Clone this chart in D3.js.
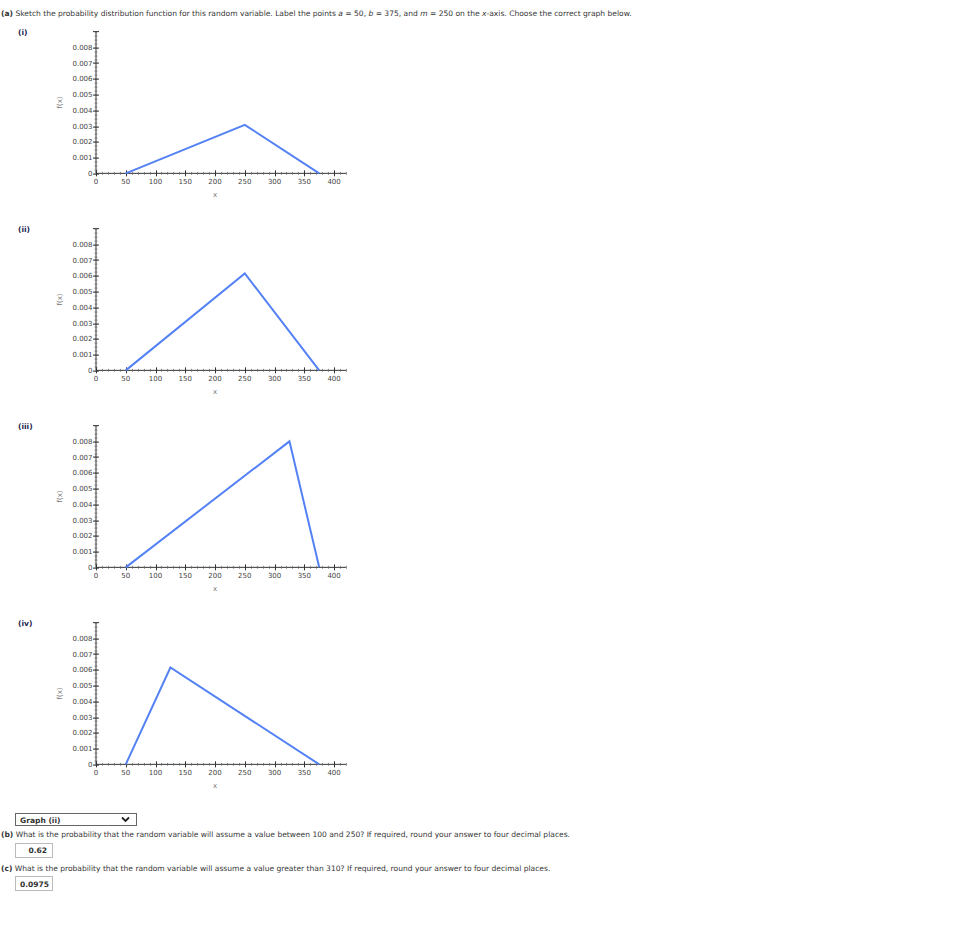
<!DOCTYPE html>
<html>
<head>
<meta charset="utf-8">
<script src="https://cdn.jsdelivr.net/npm/d3@7/dist/d3.min.js"></script>
<style>
  html, body { margin: 0; padding: 0; background: #fff; }
  svg { display: block; }
  text { font-family: "DejaVu Sans", Verdana, sans-serif; }
</style>
</head>
<body>
<svg id="page" width="963" height="934"></svg>
<script>
// Triangular distribution: lower limit a, upper limit b, candidate modes
const lowerA = 50;
const upperB = 375;
const graphLabels = ["(i)", "(ii)", "(iii)", "(iv)"];
const peakX = [250, 250, 325, 125];
const peakY = [0.00308, 0.00615, 0.008, 0.00615];

// Axis ticks
const xTicks = [0, 50, 100, 150, 200, 250, 300, 350, 400];
const yTicks = [0, 0.001, 0.002, 0.003, 0.004, 0.005, 0.006, 0.007, 0.008];
const xTickText = ["0", "50", "100", "150", "200", "250", "300", "350", "400"];
const yTickText = ["0", "0.001", "0.002", "0.003", "0.004", "0.005", "0.006", "0.007", "0.008"];

// Question texts and answers
const titleBold = "(a)";
const titleText = " Sketch the probability distribution function for this random variable. Label the points ";
const answerChoice = "Graph (ii)";
const partB = "What is the probability that the random variable will assume a value between 100 and 250? If required, round your answer to four decimal places.";
const answerB = "0.62";
const partC = "What is the probability that the random variable will assume a value greater than 310? If required, round your answer to four decimal places.";
const answerC = "0.0975";

const svg = d3.select("#page");
const textColor = "#333";
const fs = 7.55;

// Header line for part (a)
const title = svg.append("text").attr("x", 1).attr("y", 16)
  .attr("font-size", fs).attr("fill", textColor);
title.append("tspan").attr("font-weight", "bold").text(titleBold);
title.append("tspan").text(titleText);
title.append("tspan").attr("font-style", "italic").text("a");
title.append("tspan").text(" = 50, ");
title.append("tspan").attr("font-style", "italic").text("b");
title.append("tspan").text(" = 375, and ");
title.append("tspan").attr("font-style", "italic").text("m");
title.append("tspan").text(" = 250 on the ");
title.append("tspan").attr("font-style", "italic").text("x");
title.append("tspan").text("-axis. Choose the correct graph below.");

// Shared scales (each panel is translated vertically)
const x = d3.scaleLinear().domain([0, 420]).range([96, 346]);
const y = d3.scaleLinear().domain([0, 0.009]).range([141.75, 0]);

const panelTop = [31.6, 228.6, 425.6, 622.6];

graphLabels.forEach((lab, i) => {
  const top = panelTop[i];
  svg.append("text").attr("x", 18).attr("y", top + 3)
    .attr("font-size", fs).attr("font-weight", "bold").attr("fill", "#1d2450")
    .text(lab);

  const g = svg.append("g").attr("transform", `translate(0,${top})`);
  const y0 = y(0);

  // y axis line with cap
  g.append("line").attr("x1", x(0)).attr("x2", x(0)).attr("y1", y(0.009)).attr("y2", y0)
    .attr("stroke", "#333").attr("stroke-width", 1);
  g.append("line").attr("x1", x(0) - 3).attr("x2", x(0) + 3).attr("y1", y(0.009)).attr("y2", y(0.009))
    .attr("stroke", "#333").attr("stroke-width", 1);
  // y minor ticks
  d3.range(0, 0.009 + 1e-9, 0.00025).forEach(v => {
    g.append("line").attr("x1", x(0) - 1.5).attr("x2", x(0) + 1.5)
      .attr("y1", Math.round(y(v)) + 0.5).attr("y2", Math.round(y(v)) + 0.5)
      .attr("stroke", "#666").attr("stroke-width", 0.7);
  });
  // y major ticks + labels
  yTicks.forEach((v, k) => {
    g.append("line").attr("x1", x(0) - 3).attr("x2", x(0) + 3)
      .attr("y1", Math.round(y(v)) + 0.5).attr("y2", Math.round(y(v)) + 0.5)
      .attr("stroke", "#333").attr("stroke-width", 1);
    g.append("text").attr("x", x(0) - 3.5).attr("y", y(v) + 2.5)
      .attr("text-anchor", "end").attr("font-size", 7).attr("fill", "#444")
      .text(yTickText[k]);
  });

  // x axis line
  g.append("line").attr("x1", x(0)).attr("x2", x(420)).attr("y1", y0).attr("y2", y0)
    .attr("stroke", "#333").attr("stroke-width", 1);
  d3.range(0, 421, 10).forEach(v => {
    g.append("line").attr("x1", Math.round(x(v)) + 0.5).attr("x2", Math.round(x(v)) + 0.5)
      .attr("y1", y0 - 1.5).attr("y2", y0 + 1.5)
      .attr("stroke", "#666").attr("stroke-width", 0.7);
  });
  xTicks.forEach((v, k) => {
    g.append("line").attr("x1", Math.round(x(v)) + 0.5).attr("x2", Math.round(x(v)) + 0.5)
      .attr("y1", y0 - 3).attr("y2", y0 + 3)
      .attr("stroke", "#333").attr("stroke-width", 1);
    g.append("text").attr("x", x(v)).attr("y", y0 + 10.5)
      .attr("text-anchor", "middle").attr("font-size", 7).attr("fill", "#444")
      .text(xTickText[k]);
  });

  // axis titles
  g.append("text").attr("x", x(200)).attr("y", y0 + 24)
    .attr("text-anchor", "middle").attr("font-size", 7).attr("fill", "#777").text("x");
  g.append("text")
    .attr("transform", `translate(62,${y(0.0045)}) rotate(-90)`)
    .attr("text-anchor", "middle").attr("font-size", 7).attr("fill", "#777").text("f(x)");

  // density polyline
  const pts = [[lowerA, 0], [peakX[i], peakY[i]], [upperB, 0]];
  g.append("path")
    .attr("d", d3.line().x(d => x(d[0])).y(d => y(d[1]))(pts))
    .attr("fill", "none").attr("stroke", "#5482f5").attr("stroke-width", 2)
    .attr("stroke-linejoin", "miter");
});

// Dropdown with the chosen graph
svg.append("rect").attr("x", 15.5).attr("y", 813.5).attr("width", 121).attr("height", 12)
  .attr("fill", "#fff").attr("stroke", "#666").attr("stroke-width", 1);
svg.append("text").attr("x", 20).attr("y", 822.5).attr("font-size", fs)
  .attr("font-weight", "bold").attr("fill", textColor).text(answerChoice);
svg.append("path").attr("d", "M122,817.5 L125.5,821 L129,817.5")
  .attr("fill", "none").attr("stroke", "#222").attr("stroke-width", 1.8);

// Part (b)
const tb = svg.append("text").attr("x", 1).attr("y", 837).attr("font-size", fs).attr("fill", textColor);
tb.append("tspan").attr("font-weight", "bold").text("(b)");
tb.append("tspan").text(" " + partB);
svg.append("rect").attr("x", 15.5).attr("y", 843.5).attr("width", 37).attr("height", 14)
  .attr("fill", "#fff").attr("stroke", "#bbb").attr("stroke-width", 1);
svg.append("text").attr("x", 47).attr("y", 853).attr("text-anchor", "end").attr("font-size", fs)
  .attr("font-weight", "bold").attr("fill", textColor).text(answerB);

// Part (c)
const tc = svg.append("text").attr("x", 1).attr("y", 871).attr("font-size", fs).attr("fill", textColor);
tc.append("tspan").attr("font-weight", "bold").text("(c)");
tc.append("tspan").text(" " + partC);
svg.append("rect").attr("x", 15.5).attr("y", 876.5).attr("width", 37).attr("height", 14)
  .attr("fill", "#fff").attr("stroke", "#bbb").attr("stroke-width", 1);
svg.append("text").attr("x", 20).attr("y", 886.5).attr("font-size", fs)
  .attr("font-weight", "bold").attr("fill", textColor).text(answerC);
</script>
</body>
</html>
